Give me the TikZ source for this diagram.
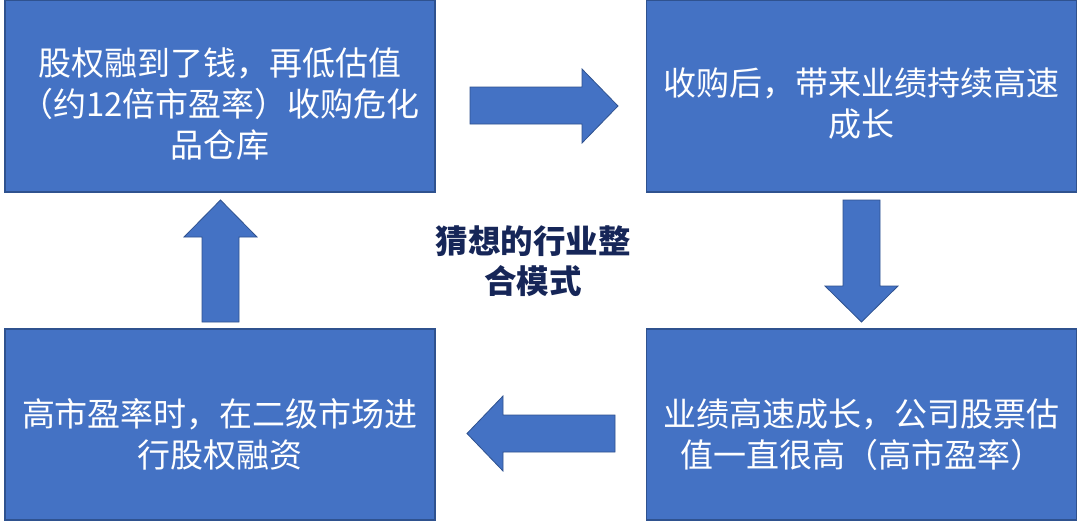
\documentclass[tikz,border=0pt]{standalone}
\usepackage{fontspec}
\setmainfont{Noto Sans CJK SC}
\definecolor{boxblue}{HTML}{4472C4}
\definecolor{boxborder}{HTML}{2F528F}
\definecolor{titlenavy}{RGB}{22,38,88}
\tikzset{
  box/.style={draw=boxborder, fill=boxblue, line width=1.2pt, minimum width=430pt, inner sep=0pt},
  boxtext/.style={text=white, align=center, inner sep=0pt, font=\fontsize{33}{41}\selectfont},
  blockarrow/.style={draw=boxborder, fill=boxblue, line width=0.8pt, line join=miter},
  titletext/.style={text=titlenavy, align=center, inner sep=0pt, font=\fontsize{32.5}{40}\selectfont\bfseries}
}
\begin{document}
\begin{tikzpicture}[x=1pt,y=-1pt]
\useasboundingbox (0,0) rectangle (1080,522);
\fill[white] (0,0) rectangle (1080,522);
% boxes
\node[box, minimum height=192pt] (tl) at (220,96) {};
\node[box, minimum height=192pt] (tr) at (861.5,96) {};
\node[box, minimum height=191pt] (bl) at (220,424.5) {};
\node[box, minimum height=191pt] (br) at (861.5,424.5) {};
% texts
\node[boxtext] (tlt) at ([yshift=-8pt]tl.center) {股权融到了钱，再低估值\\（约12倍市盈率）收购危化\\品仓库};
\node[boxtext] (trt) at ([yshift=-8pt]tr.center) {收购后，带来业绩持续高速\\成长};
\node[boxtext] (blt) at ([yshift=-10pt]bl.center) {高市盈率时，在二级市场进\\行股权融资};
\node[boxtext] (brt) at ([yshift=-10pt]br.center) {业绩高速成长，公司股票估\\值一直很高（高市盈率）};
% title
\node[titletext] (title) at (533,261) {猜想的行业整\\合模式};
% block arrows
\draw[blockarrow] (470,87) -- (582,87) -- (582,69) -- (618,106) -- (582,143) -- (582,124) -- (470,124) -- cycle;
\draw[blockarrow] (843,200) -- (880,200) -- (880,286) -- (898,286) -- (861.5,322) -- (825,286) -- (843,286) -- cycle;
\draw[blockarrow] (615,415) -- (503,415) -- (503,396) -- (467,433.5) -- (503,471) -- (503,452) -- (615,452) -- cycle;
\draw[blockarrow] (202,322) -- (239,322) -- (239,237) -- (257,237) -- (220.5,200) -- (184,237) -- (202,237) -- cycle;
\end{tikzpicture}
\end{document}
